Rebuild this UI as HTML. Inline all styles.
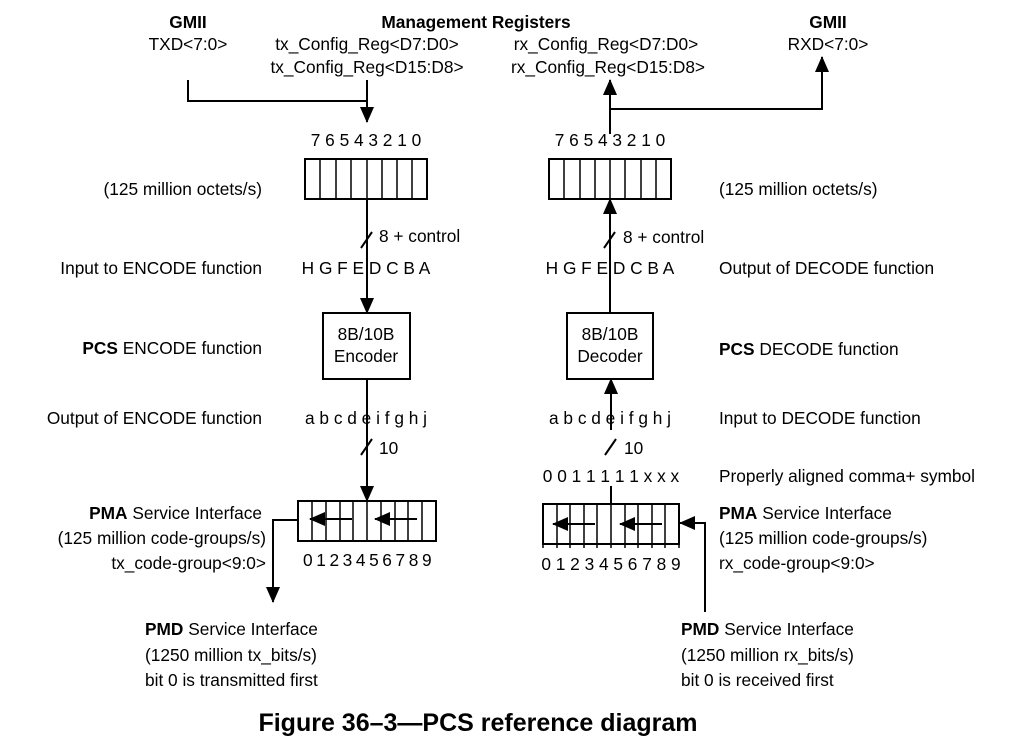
<!DOCTYPE html>
<html><head><meta charset="utf-8"><style>
html,body{margin:0;padding:0;background:#fff}
svg text{font-family:"Liberation Sans",Arial,sans-serif;font-size:17.3px;fill:#000}
.b{font-weight:bold}
</style></head><body>
<svg width="1011" height="745" viewBox="0 0 1011 745" xmlns="http://www.w3.org/2000/svg">
<defs>
<marker id="s" markerWidth="16" markerHeight="16" refX="15" refY="8" orient="auto" markerUnits="userSpaceOnUse" viewBox="0 0 16 16"><path d="M0,1 L16,8 L0,15 z" fill="#000"/></marker>
</defs>
<g stroke="#000" stroke-width="2" fill="none">
<polyline points="188,80 188,101 367,101"/>
<line x1="367" y1="80" x2="367" y2="122" marker-end="url(#s)"/>
<line x1="610" y1="134" x2="610" y2="80" marker-end="url(#s)"/>
<polyline points="610,109 822,109 822,57" marker-end="url(#s)"/>
<rect x="305" y="159" width="122" height="40"/>
<rect x="549" y="159" width="122" height="40"/>
<line x1="367" y1="199" x2="367" y2="313" marker-end="url(#s)"/>
<line x1="361" y1="248" x2="372" y2="232"/>
<rect x="323" y="313" width="87" height="66"/>
<line x1="367" y1="379" x2="367" y2="501" marker-end="url(#s)"/>
<line x1="361" y1="455" x2="372" y2="439"/>
<line x1="610" y1="313" x2="610" y2="199" marker-end="url(#s)"/>
<line x1="604" y1="248" x2="615" y2="232"/>
<rect x="567" y="313" width="86" height="66"/>
<line x1="611" y1="430" x2="611" y2="379" marker-end="url(#s)"/>
<line x1="605" y1="455" x2="616" y2="439"/>
<line x1="611" y1="486" x2="611" y2="504"/>
<rect x="298" y="501" width="138" height="40"/>
<rect x="543" y="504" width="136" height="40"/>
<polyline points="298,520 273,520 273,602" marker-end="url(#s)"/>
<polyline points="705,612 705,523 680,523" marker-end="url(#s)"/>
<line x1="352" y1="519" x2="310" y2="519" marker-end="url(#s)"/>
<line x1="417" y1="519" x2="375" y2="519" marker-end="url(#s)"/>
<line x1="595" y1="524" x2="553" y2="524" marker-end="url(#s)"/>
<line x1="662" y1="524" x2="620" y2="524" marker-end="url(#s)"/>
</g>
<g stroke="#000" stroke-width="1.5">
<path d="M320,159v40M336,159v40M351,159v40M367,159v40M382,159v40M397,159v40M412,159v40"/>
<path d="M564,159v40M580,159v40M595,159v40M610,159v40M625,159v40M641,159v40M656,159v40"/>
<path d="M312,501v40M326,501v40M340,501v40M353,501v40M367,501v40M381,501v40M395,501v40M408,501v40M422,501v40"/>
<path d="M543,504v44M557,504v44M570,504v44M584,504v44M597,504v44M611,504v44M625,504v44M638,504v44M652,504v44M665,504v44M679,504v44"/>
</g>
<text x="188" y="28" text-anchor="middle" class="b">GMII</text>
<text x="188" y="50" text-anchor="middle">TXD&lt;7:0&gt;</text>
<text x="476" y="28" text-anchor="middle" class="b">Management Registers</text>
<text x="367" y="50" text-anchor="middle">tx_Config_Reg&lt;D7:D0&gt;</text>
<text x="367" y="73" text-anchor="middle">tx_Config_Reg&lt;D15:D8&gt;</text>
<text x="606" y="50" text-anchor="middle">rx_Config_Reg&lt;D7:D0&gt;</text>
<text x="608" y="73" text-anchor="middle">rx_Config_Reg&lt;D15:D8&gt;</text>
<text x="828" y="28" text-anchor="middle" class="b">GMII</text>
<text x="828" y="50" text-anchor="middle">RXD&lt;7:0&gt;</text>
<text x="366" y="146" text-anchor="middle">7 6 5 4 3 2 1 0</text>
<text x="610" y="146" text-anchor="middle">7 6 5 4 3 2 1 0</text>
<text x="262" y="195" text-anchor="end">(125 million octets/s)</text>
<text x="719" y="195">(125 million octets/s)</text>
<text x="379" y="242">8 + control</text>
<text x="623" y="243">8 + control</text>
<text x="262" y="274" text-anchor="end">Input to ENCODE function</text>
<text x="366" y="274" text-anchor="middle">H G F E D C B A</text>
<text x="610" y="274" text-anchor="middle">H G F E D C B A</text>
<text x="719" y="274">Output of DECODE function</text>
<text x="366" y="340" text-anchor="middle">8B/10B</text>
<text x="366" y="362" text-anchor="middle">Encoder</text>
<text x="610" y="340" text-anchor="middle">8B/10B</text>
<text x="610" y="362" text-anchor="middle">Decoder</text>
<text x="262" y="354" text-anchor="end"><tspan class="b">PCS</tspan> ENCODE function</text>
<text x="719" y="355"><tspan class="b">PCS</tspan> DECODE function</text>
<text x="262" y="424" text-anchor="end">Output of ENCODE function</text>
<text x="366" y="424" text-anchor="middle">a b c d e i f g h j</text>
<text x="610" y="424" text-anchor="middle">a b c d e i f g h j</text>
<text x="719" y="424">Input to DECODE function</text>
<text x="379" y="454">10</text>
<text x="624" y="454">10</text>
<text x="611" y="482" text-anchor="middle">0 0 1 1 1 1 1 x x x</text>
<text x="719" y="482">Properly aligned comma+ symbol</text>
<text x="262" y="519" text-anchor="end"><tspan class="b">PMA</tspan> Service Interface</text>
<text x="266" y="544" text-anchor="end">(125 million code-groups/s)</text>
<text x="266" y="569" text-anchor="end">tx_code-group&lt;9:0&gt;</text>
<text x="367" y="566" text-anchor="middle" letter-spacing="-0.6">0 1 2 3 4 5 6 7 8 9</text>
<text x="611" y="570" text-anchor="middle">0 1 2 3 4 5 6 7 8 9</text>
<text x="719" y="519"><tspan class="b">PMA</tspan> Service Interface</text>
<text x="719" y="544">(125 million code-groups/s)</text>
<text x="719" y="569">rx_code-group&lt;9:0&gt;</text>
<text x="145" y="635"><tspan class="b">PMD</tspan> Service Interface</text>
<text x="145" y="661">(1250 million tx_bits/s)</text>
<text x="145" y="686">bit 0 is transmitted first</text>
<text x="681" y="635"><tspan class="b">PMD</tspan> Service Interface</text>
<text x="681" y="661">(1250 million rx_bits/s)</text>
<text x="681" y="686">bit 0 is received first</text>
<text x="478" y="731" text-anchor="middle" class="b" style="font-size:25px">Figure 36–3—PCS reference diagram</text>
</svg>
</body></html>
